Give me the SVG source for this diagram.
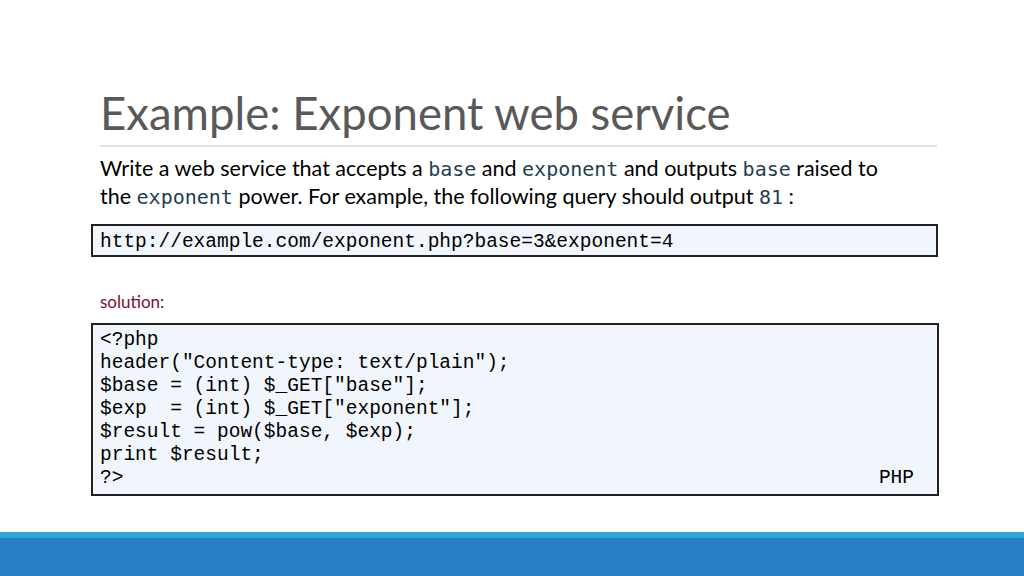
<svg xmlns="http://www.w3.org/2000/svg" width="1024" height="576" viewBox="0 0 1024 576">
<style>
.t{font-family:Lato,"Open Sans",sans-serif;fill:#595959}
.b{font-family:Lato,"Open Sans",sans-serif;font-size:21.5px;fill:#000}
.m{font-family:"DejaVu Sans Mono",monospace;font-size:20px;fill:#1f3f4f}
.c{font-family:"Liberation Mono",monospace;font-size:19.5px;fill:#000;white-space:pre}
.box{fill:#f0f6fc;stroke:#222;stroke-width:2}
</style>
<rect width="1024" height="576" fill="#fff"/>
<text class="t" x="100" y="130" font-size="45.5">Example: Exponent web service</text>
<line x1="100" y1="146" x2="937" y2="146" stroke="#d9d9d9" stroke-width="1.5"/>
<text class="b" x="100" y="176">Write a web service that accepts a <tspan class="m">base</tspan> and <tspan class="m">exponent</tspan> and outputs <tspan class="m">base</tspan> raised to</text>
<text class="b" x="100" y="204">the <tspan class="m">exponent</tspan> power. For example, the following query should output <tspan class="m">81</tspan> :</text>
<g id="url">
<rect class="box" x="92" y="225" width="845" height="31"/>
<text class="c" x="100" y="247">http://example.com/exponent.php?base=3&amp;exponent=4</text>
</g>
<text x="100" y="308" font-family="Lato,'Open Sans',sans-serif" font-size="17" fill="#7a1030">solution:</text>
<g id="code">
<rect class="box" x="92" y="324" width="846" height="171"/>
<text class="c" x="100" y="345">&lt;?php</text>
<text class="c" x="100" y="368">header("Content-type: text/plain");</text>
<text class="c" x="100" y="391">$base = (int) $_GET["base"];</text>
<text class="c" x="100" y="414" xml:space="preserve">$exp  = (int) $_GET["exponent"];</text>
<text class="c" x="100" y="437">$result = pow($base, $exp);</text>
<text class="c" x="100" y="460">print $result;</text>
<text class="c" x="100" y="483">?&gt;</text>
<text class="c" x="914" y="483" text-anchor="end" fill="#aaa">PHP</text>
</g>
<rect x="0" y="532" width="1024" height="6" fill="#2ba7dc"/>
<rect x="0" y="538" width="1024" height="38" fill="#2880c4"/>
</svg>
